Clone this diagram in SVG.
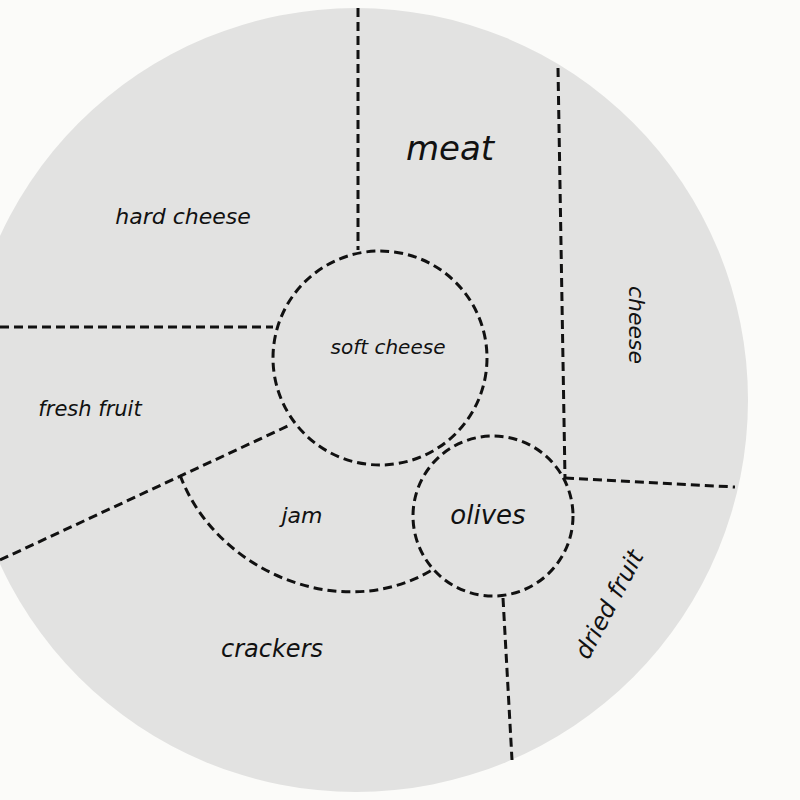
<svg xmlns="http://www.w3.org/2000/svg" width="800" height="800" viewBox="0 0 800 800">
<style>
.d{fill:none;stroke:#111;stroke-width:3;stroke-dasharray:9,5}
.t{font-family:"DejaVu Sans",sans-serif;font-style:italic;fill:#111;text-anchor:middle;dominant-baseline:middle}
</style>
<rect width="800" height="800" fill="#fbfbf9"/>
<circle cx="356" cy="400" r="392" fill="#e2e2e1"/>
<g id="connectors">
<line class="d" x1="358" y1="8" x2="358" y2="250"/>
<line class="d" x1="558" y1="68" x2="565" y2="478"/>
<line class="d" x1="565" y1="478" x2="735" y2="487"/>
<line class="d" x1="0" y1="327" x2="273" y2="327"/>
<line class="d" x1="0" y1="560" x2="290" y2="425"/>
<path class="d" stroke-width="2" d="M180,475 C215,570 340,625 432,570"/>
<line class="d" x1="503" y1="598" x2="512" y2="760"/>
</g>
<g id="soft-cheese"><circle class="d" stroke-width="4" cx="380" cy="358" r="107"/><text class="t" x="388" y="348" font-size="20">soft cheese</text></g>
<g id="olives"><circle class="d" stroke-width="3" cx="493" cy="516" r="80"/><text class="t" x="488" y="516" font-size="26">olives</text></g>
<g id="meat"><text class="t" x="450" y="150" font-size="34">meat</text></g>
<g id="hard-cheese"><text class="t" x="183" y="218" font-size="22">hard cheese</text></g>
<g id="cheese"><text class="t" font-size="22" transform="translate(635,325) rotate(90)">cheese</text></g>
<g id="fresh-fruit"><text class="t" x="90" y="410" font-size="21">fresh fruit</text></g>
<g id="jam"><text class="t" x="302" y="517" font-size="22">jam</text></g>
<g id="crackers"><text class="t" x="272" y="650" font-size="24">crackers</text></g>
<g id="dried-fruit"><text class="t" font-size="24" transform="translate(610,605) rotate(-62)">dried fruit</text></g>
</svg>
